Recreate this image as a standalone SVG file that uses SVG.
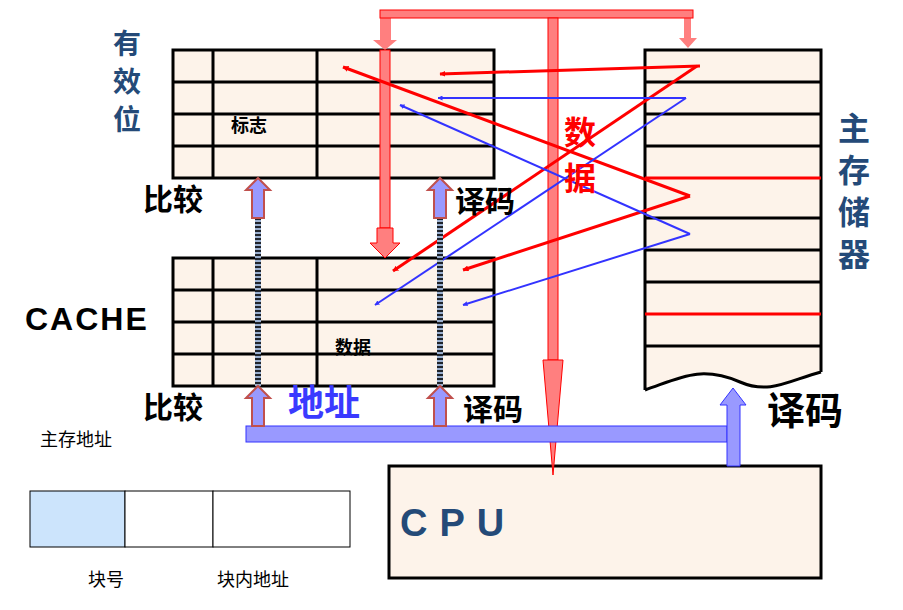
<svg xmlns="http://www.w3.org/2000/svg" width="903" height="610" viewBox="0 0 903 610">
<style>
.cell{fill:#fdf3ea;stroke:#000;stroke-width:3}
.ln{stroke:#000;stroke-width:3}
.t{font-family:"Noto Sans CJK SC","Liberation Sans",sans-serif;font-weight:bold}
.dk{fill:#244a78}
.r{stroke:#f00;stroke-width:3;fill:none}
.b{stroke:#33f;stroke-width:2;fill:none}
.up{fill:#99f;stroke:#c0504d;stroke-width:2}
</style>
<defs>
<marker id="ar" viewBox="0 0 10 10" refX="9" refY="5" markerWidth="6" markerHeight="6" orient="auto" markerUnits="userSpaceOnUse"><path d="M0,0L10,5L0,10z" fill="#f00"/></marker>
<marker id="ab" viewBox="0 0 10 10" refX="9" refY="5" markerWidth="5" markerHeight="5" orient="auto" markerUnits="userSpaceOnUse"><path d="M0,0L10,5L0,10z" fill="#33f"/></marker>
</defs>
<g id="cache-top">
<rect class="cell" x="173" y="50" width="321" height="128"/>
<path class="ln" d="M173 82H494M173 114H494M173 146H494M213 50V178M317 50V178"/>
<text class="t" x="231" y="132" font-size="18">标志</text>
</g>
<g id="cache-bottom">
<rect class="cell" x="173" y="258" width="321" height="128"/>
<path class="ln" d="M173 290H494M173 322H494M173 354H494M213 258V386M317 258V386"/>
<text class="t" x="335" y="354" font-size="18">数据</text>
</g>
<g id="memory">
<path d="M645 50H821V372C790 380 770 395 740 382C700 365 680 378 645 390Z" fill="#fdf3ea"/>
<path d="M645 390V50H821V372M645 390C680 378 700 365 740 382C770 395 790 380 821 372" class="ln" fill="none"/>
<path class="ln" d="M645 82H821M645 114H821M645 146H821M645 218H821M645 250H821M645 282H821M645 346H821"/>
<path d="M645 178H821M645 314H821" stroke="#f00" stroke-width="3"/>
</g>
<g id="cpu">
<rect x="389" y="466" width="432" height="112" fill="#fdf3ea" stroke="#000" stroke-width="3"/>
<text x="400" y="536" font-family="Liberation Sans,sans-serif" font-weight="bold" font-size="38" fill="#244a78" letter-spacing="12">CPU</text>
</g>
<g id="connectors">
<g fill="#ff7f7f" stroke="#f00" stroke-width="1">
<path d="M380 10H693V18H691V38H697L688 48L679 38H684V18H391V40H397L385 50L373 40H380Z" stroke="none"/>
<rect x="380" y="10" width="313" height="8" fill="none"/>
<rect x="548" y="18" width="10" height="342"/>
<path d="M543 360H563L553 475Z"/>
<rect x="380" y="50" width="10" height="178"/>
<path d="M377 228H393V243H400L385 258L370 243H377Z"/>
</g>
<path class="r" d="M700 66L440 74" marker-end="url(#ar)"/>
<path class="r" d="M697 66L393 271" marker-end="url(#ar)"/>
<path class="r" d="M690 196L343 67" marker-end="url(#ar)"/>
<path class="r" d="M690 196L463 270" marker-end="url(#ar)"/>
<path class="b" d="M686 98L438 98" marker-end="url(#ab)"/>
<path class="b" d="M686 98L375 305" marker-end="url(#ab)"/>
<path class="b" d="M690 234L400 105" marker-end="url(#ab)"/>
<path class="b" d="M690 234L463 305" marker-end="url(#ab)"/>
<path d="M258 218V388M440 218V388" stroke="#9bb0d0" stroke-width="6"/>
<path d="M258 218V388M440 218V388" stroke="#000" stroke-width="6" stroke-dasharray="2 2" fill="none" opacity="0.8"/>
<rect x="246" y="426" width="481" height="16" fill="#99f" stroke="#33f" stroke-width="1"/>
<path d="M727 466V405H720L733 388L746 405H740V466Z" fill="#99f" stroke="#33f" stroke-width="1"/>
<path class="up" d="M252 426V398H246L258 386L270 398H264V426Z"/>
<path class="up" d="M434 426V398H428L440 386L452 398H446V426Z"/>
<path class="up" d="M252 218V190H246L258 178L270 190H264V218Z"/>
<path class="up" d="M434 218V190H428L440 178L452 190H446V218Z"/>
</g>
<g id="labels">
<text class="t dk" font-size="28" x="113" y="54">有</text>
<text class="t dk" font-size="28" x="113" y="92">效</text>
<text class="t dk" font-size="28" x="113" y="130">位</text>
<text class="t dk" font-size="32" x="838" y="140">主</text>
<text class="t dk" font-size="32" x="838" y="182">存</text>
<text class="t dk" font-size="32" x="838" y="224">储</text>
<text class="t dk" font-size="32" x="838" y="266">器</text>
<text class="t" x="143" y="210" font-size="30">比较</text>
<text class="t" x="455" y="212" font-size="30">译码</text>
<text x="25" y="330" font-family="Liberation Sans,sans-serif" font-weight="bold" font-size="32" letter-spacing="2">CACHE</text>
<text class="t" x="143" y="418" font-size="30">比较</text>
<text class="t" x="288" y="416" font-size="36" fill="#3a3aff">地址</text>
<text class="t" x="463" y="420" font-size="30">译码</text>
<text class="t" x="767" y="424" font-size="38">译码</text>
<text class="t" font-size="32" fill="#f00" x="564" y="144">数</text>
<text class="t" font-size="32" fill="#f00" x="564" y="190">据</text>
<text x="40" y="446" font-family="Noto Sans CJK SC,sans-serif" font-size="18">主存地址</text>
<rect x="30" y="491" width="95" height="56" fill="#cce4fc" stroke="#000"/>
<rect x="125" y="491" width="88" height="56" fill="#fff" stroke="#000"/>
<rect x="213" y="491" width="137" height="56" fill="#fff" stroke="#000"/>
<text x="88" y="586" font-family="Noto Sans CJK SC,sans-serif" font-size="18">块号</text>
<text x="217" y="586" font-family="Noto Sans CJK SC,sans-serif" font-size="18">块内地址</text>
</g>
</svg>
